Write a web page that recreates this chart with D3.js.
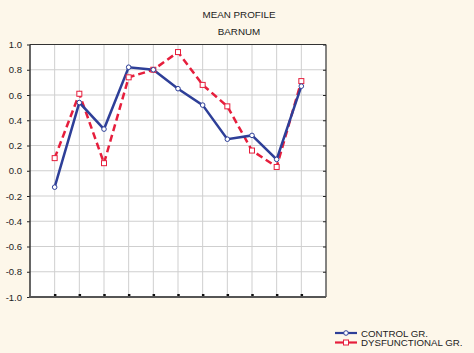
<!DOCTYPE html>
<html>
<head>
<meta charset="utf-8">
<script src="https://cdn.jsdelivr.net/npm/d3@7"></script>
<style>
  body { margin: 0; background: #fdf7ea; }
  text { font-family: Arial, "Liberation Sans", sans-serif; }
</style>
</head>
<body>
<div id="chart"></div>
<script>
// values
var positions = [1, 2, 3, 4, 5, 6, 7, 8, 9, 10, 11];
var control = [-0.13, 0.54, 0.33, 0.82, 0.80, 0.65, 0.52, 0.25, 0.28, 0.09, 0.67];
var dysfunctional = [0.10, 0.61, 0.06, 0.74, 0.80, 0.94, 0.68, 0.51, 0.16, 0.03, 0.71];
var yTicks = [1.0, 0.8, 0.6, 0.4, 0.2, 0.0, -0.2, -0.4, -0.6, -0.8, -1.0];
var seriesNames = ["CONTROL GR.", "DYSFUNCTIONAL GR."];

var width = 474, height = 353;
var margin = { top: 44.5, right: 148, bottom: 56, left: 30 };

var svg = d3.select("#chart")
  .append("svg")
  .attr("width", width)
  .attr("height", height);

svg.append("rect")
  .attr("width", width)
  .attr("height", height)
  .attr("fill", "#fdf7ea");

var x = d3.scaleLinear().domain([0, 12]).range([margin.left, width - margin.right]);
var y = d3.scaleLinear().domain([-1, 1]).range([height - margin.bottom, margin.top]);

// title
svg.append("text")
  .attr("x", 239).attr("y", 17.5)
  .attr("text-anchor", "middle")
  .attr("font-size", "9.8px")
  .attr("fill", "#222")
  .text("MEAN PROFILE");
svg.append("text")
  .attr("x", 239).attr("y", 34.5)
  .attr("text-anchor", "middle")
  .attr("font-size", "9.8px")
  .attr("fill", "#222")
  .text("BARNUM");

// plot area
svg.append("rect")
  .attr("x", x(0)).attr("y", y(1))
  .attr("width", x(12) - x(0))
  .attr("height", y(-1) - y(1))
  .attr("fill", "white");

// grid
svg.append("g")
  .selectAll("line")
  .data(d3.range(1, 12))
  .enter()
  .append("line")
  .attr("x1", d => x(d)).attr("x2", d => x(d))
  .attr("y1", y(1)).attr("y2", y(-1))
  .attr("stroke", "#cfcfcf")
  .attr("stroke-width", 1);

svg.append("g")
  .selectAll("line")
  .data(yTicks.slice(1, -1))
  .enter()
  .append("line")
  .attr("x1", x(0)).attr("x2", x(12))
  .attr("y1", d => y(d)).attr("y2", d => y(d))
  .attr("stroke", "#cfcfcf")
  .attr("stroke-width", 1);

// y axis
var yAxis = d3.axisLeft(y)
  .tickValues(yTicks)
  .tickSize(3)
  .tickFormat(d3.format(".1f"));

var gy = svg.append("g")
  .attr("transform", "translate(" + x(0) + ",0)")
  .call(yAxis);
gy.select(".domain").remove();
gy.selectAll("text")
  .attr("x", -8)
  .attr("font-size", "9.5px")
  .attr("fill", "#222")
  .text(d => d.toFixed(1).replace("-0.0", "0.0"));
gy.selectAll(".tick line").attr("stroke", "#222");

// right ticks
var gr = svg.append("g")
  .attr("transform", "translate(" + x(12) + ",0)")
  .call(d3.axisLeft(y).tickValues(yTicks).tickSize(3).tickFormat(""));
gr.select(".domain").remove();
gr.selectAll(".tick line").attr("stroke", "#222");

// bottom ticks
var gx = svg.append("g")
  .attr("transform", "translate(0," + y(-1) + ")")
  .call(d3.axisBottom(x).tickValues(positions).tickSize(-3).tickFormat(""));
gx.select(".domain").remove();
gx.selectAll(".tick line").attr("stroke", "#111").attr("stroke-width", 2.5);

// frame
svg.append("line")
  .attr("x1", x(0)).attr("x2", x(0)).attr("y1", y(1)).attr("y2", y(-1))
  .attr("stroke", "#333").attr("stroke-width", 1.5);
svg.append("line")
  .attr("x1", x(12)).attr("x2", x(12)).attr("y1", y(1)).attr("y2", y(-1))
  .attr("stroke", "#333").attr("stroke-width", 1.2);
svg.append("line")
  .attr("x1", x(0)).attr("x2", x(12)).attr("y1", y(1)).attr("y2", y(1))
  .attr("stroke", "#333").attr("stroke-width", 1.2);
svg.append("line")
  .attr("x1", x(0) - 1).attr("x2", x(12)).attr("y1", y(-1)).attr("y2", y(-1))
  .attr("stroke", "#555").attr("stroke-width", 2.2);

var line = d3.line()
  .x(d => x(d[0]))
  .y(d => y(d[1]));

var blue = "#2e3f98", red = "#e61e3c";

var dataC = positions.map((p, i) => [p, control[i]]);
var dataD = positions.map((p, i) => [p, dysfunctional[i]]);

svg.append("path")
  .datum(dataD)
  .attr("d", line)
  .attr("fill", "none")
  .attr("stroke", red)
  .attr("stroke-width", 2.5)
  .attr("stroke-dasharray", "7,4");

svg.append("path")
  .datum(dataC)
  .attr("d", line)
  .attr("fill", "none")
  .attr("stroke", blue)
  .attr("stroke-width", 2.5);

svg.append("g")
  .selectAll("rect")
  .data(dataD)
  .enter()
  .append("rect")
  .attr("x", d => x(d[0]) - 2.5)
  .attr("y", d => y(d[1]) - 2.5)
  .attr("width", 5).attr("height", 5)
  .attr("fill", "white")
  .attr("stroke", red)
  .attr("stroke-width", 1);

svg.append("g")
  .selectAll("circle")
  .data(dataC)
  .enter()
  .append("circle")
  .attr("cx", d => x(d[0]))
  .attr("cy", d => y(d[1]))
  .attr("r", 2.3)
  .attr("fill", "white")
  .attr("stroke", blue)
  .attr("stroke-width", 1);

// legend
var legend = svg.append("g");
var legendY = [333, 342.5];
[blue, red].forEach(function (c, i) {
  legend.append("line")
    .attr("x1", 335).attr("x2", 357)
    .attr("y1", legendY[i]).attr("y2", legendY[i])
    .attr("stroke", c).attr("stroke-width", 2.2);
  if (i == 0) {
    legend.append("circle")
      .attr("cx", 346).attr("cy", legendY[i]).attr("r", 2.3)
      .attr("fill", "white").attr("stroke", c);
  } else {
    legend.append("rect")
      .attr("x", 343.5).attr("y", legendY[i] - 2.5)
      .attr("width", 5).attr("height", 5)
      .attr("fill", "white").attr("stroke", c);
  }
  legend.append("text")
    .attr("x", 361).attr("y", legendY[i] + 3.5)
    .attr("font-size", "9.7px")
    .attr("fill", "#222")
    .text(seriesNames[i]);
});
</script>
</body>
</html>
